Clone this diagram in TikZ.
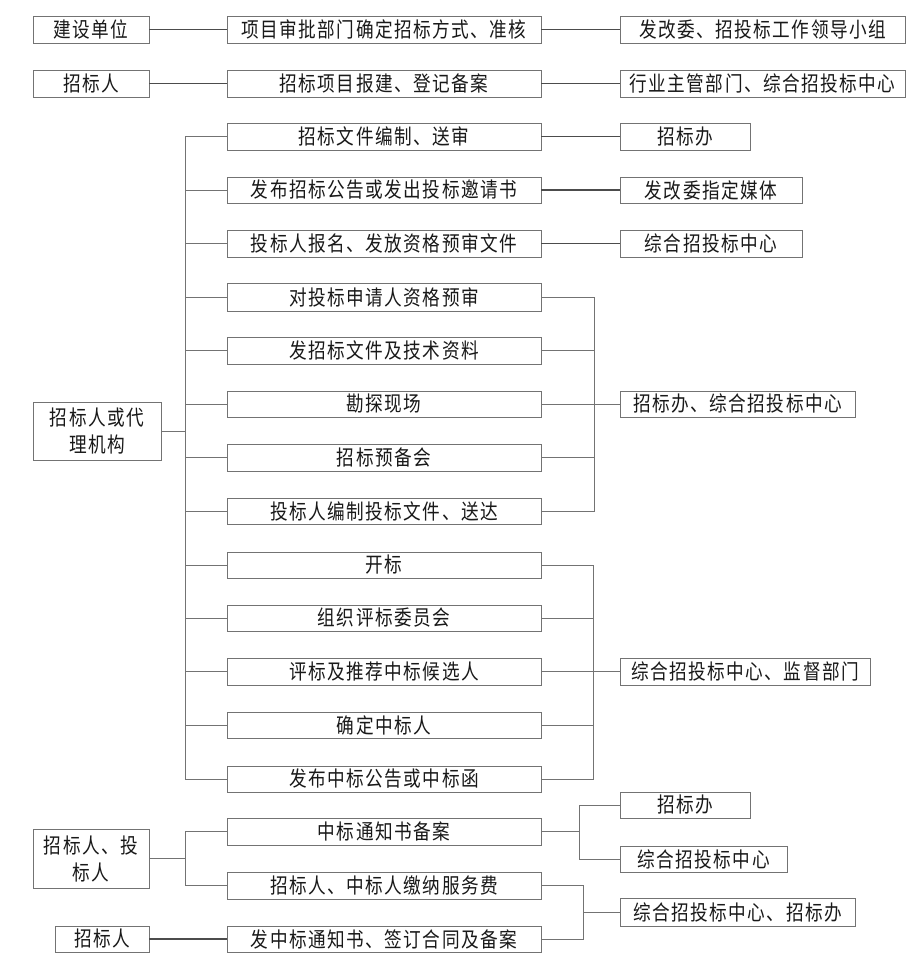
\documentclass[tikz,border=0pt]{standalone}
\usepackage{fontspec}
\setmainfont[FakeStretch=0.84,LetterSpace=7]{Noto Sans CJK SC}
\begin{document}
\begin{tikzpicture}[x=1pt,y=-1pt,
  bx/.style={draw=black!55,line width=0.8pt,inner sep=0pt,outer sep=0pt},
  txt/.style={inner sep=0pt,outer sep=0pt,font=\fontsize{21}{27}\selectfont,
    text=black!90,align=center},
  cn/.style={draw=black!55,line width=0.8pt},
  thk/.style={draw=black!70,line width=1.5pt}]
\fill[white] (0,0) rectangle (909,960);
\useasboundingbox (0,0) rectangle (909,960);
\newcommand\bx[6]{\node[bx,minimum width={#3-#2},minimum height={#5-#4}] (#1) at ({(#2+#3)/2},{(#4+#5)/2}) {};
  \node[txt] (#1-t) at (#1.center) {#6};}
% rows 1 and 2
\bx{b1}{33}{149}{16}{43}{建设单位}
\bx{b2}{227}{541}{16}{43}{项目审批部门确定招标方式、准核}
\bx{b3}{620}{905}{16}{43}{发改委、招投标工作领导小组}
\bx{c1}{33}{149}{70}{97}{招标人}
\bx{c2}{227}{541}{70}{97}{招标项目报建、登记备案}
\bx{c3}{620}{905}{70}{97}{行业主管部门、综合招投标中心}
% middle column
\bx{m1}{227}{541}{123}{150}{招标文件编制、送审}
\bx{m2}{227}{541}{177}{203}{发布招标公告或发出投标邀请书}
\bx{m3}{227}{541}{230}{257}{投标人报名、发放资格预审文件}
\bx{m4}{227}{541}{283}{311}{对投标申请人资格预审}
\bx{m5}{227}{541}{337}{364}{发招标文件及技术资料}
\bx{m6}{227}{541}{391}{417}{勘探现场}
\bx{m7}{227}{541}{444}{471}{招标预备会}
\bx{m8}{227}{541}{498}{524}{投标人编制投标文件、送达}
\bx{m9}{227}{541}{552}{578}{开标}
\bx{m10}{227}{541}{605}{631}{组织评标委员会}
\bx{m11}{227}{541}{658}{685}{评标及推荐中标候选人}
\bx{m12}{227}{541}{712}{738}{确定中标人}
\bx{m13}{227}{541}{766}{792}{发布中标公告或中标函}
\bx{m14}{227}{541}{818}{845}{中标通知书备案}
\bx{m15}{227}{541}{872}{899}{招标人、中标人缴纳服务费}
\bx{m16}{227}{541}{926}{952}{发中标通知书、签订合同及备案}
% right column
\bx{r1}{620}{750}{123}{150}{招标办}
\bx{r2}{620}{802}{177}{203}{发改委指定媒体}
\bx{r3}{620}{802}{230}{257}{综合招投标中心}
\bx{r4}{620}{855}{391}{417}{招标办、综合招投标中心}
\bx{r5}{620}{870}{658}{685}{综合招投标中心、监督部门}
\bx{r6}{620}{750}{792}{818}{招标办}
\bx{r7}{620}{787}{846}{872}{综合招投标中心}
\bx{r8}{620}{855}{898}{926}{综合招投标中心、招标办}
% left column
\bx{L}{33}{161}{402}{460}{招标人或代\\理机构}
\bx{L2}{33}{149}{829}{888}{招标人、投\\标人}
\bx{L3}{55}{149}{926}{952}{招标人}
% coordinates of vertical buses
\coordinate (s) at (185,0);
\coordinate (g1) at (594,0);
\coordinate (g2) at (593,0);
\coordinate (g3) at (579,0);
\coordinate (g4) at (583,0);
% rows 1 and 2 connectors
\draw[thk] (b1.east) -- (b2.west);
\draw[thk] (b2.east) -- (b3.west);
\draw[thk] (c1.east) -- (c2.west);
\draw[thk] (c2.east) -- (c3.west);
\draw[thk] (m1.east) -- (r1.west);
\draw[thk] (m2.east) -- (r2.west);
\draw[thk] (m3.east) -- (r3.west);
% left spine
\draw[cn] (L.east) -- (L.east -| s);
\draw[cn] (m1.west -| s) -- (m13.west -| s);
\foreach \m in {m1,m2,m3,m4,m5,m6,m7,m8,m9,m10,m11,m12,m13}
  \draw[cn] (\m.west -| s) -- (\m.west);
% group 1
\draw[cn] (m4.east) -- (m4.east -| g1) -- (m8.east -| g1) -- (m8.east);
\foreach \m in {m5,m6,m7} \draw[cn] (\m.east) -- (\m.east -| g1);
\draw[cn] (m6.east -| g1) -- (r4.west);
% group 2
\draw[cn] (m9.east) -- (m9.east -| g2) -- (m13.east -| g2) -- (m13.east);
\foreach \m in {m10,m11,m12} \draw[cn] (\m.east) -- (\m.east -| g2);
\draw[cn] (m11.east -| g2) -- (r5.west);
% bottom part
\draw[cn] (L2.east) -- (L2.east -| s);
\draw[cn] (m14.west -| s) -- (m15.west -| s);
\draw[cn] (m14.west -| s) -- (m14.west);
\draw[cn] (m15.west -| s) -- (m15.west);
\draw[cn] (m14.east) -- (m14.east -| g3);
\draw[cn] (r6.west -| g3) -- (r7.west -| g3);
\draw[cn] (r6.west -| g3) -- (r6.west);
\draw[cn] (r7.west -| g3) -- (r7.west);
\draw[cn] (m15.east) -- (m15.east -| g4) -- (m16.east -| g4) -- (m16.east);
\draw[cn] (r8.west -| g4) -- (r8.west);
\draw[thk] (L3.east) -- (m16.west);
\end{tikzpicture}
\end{document}
